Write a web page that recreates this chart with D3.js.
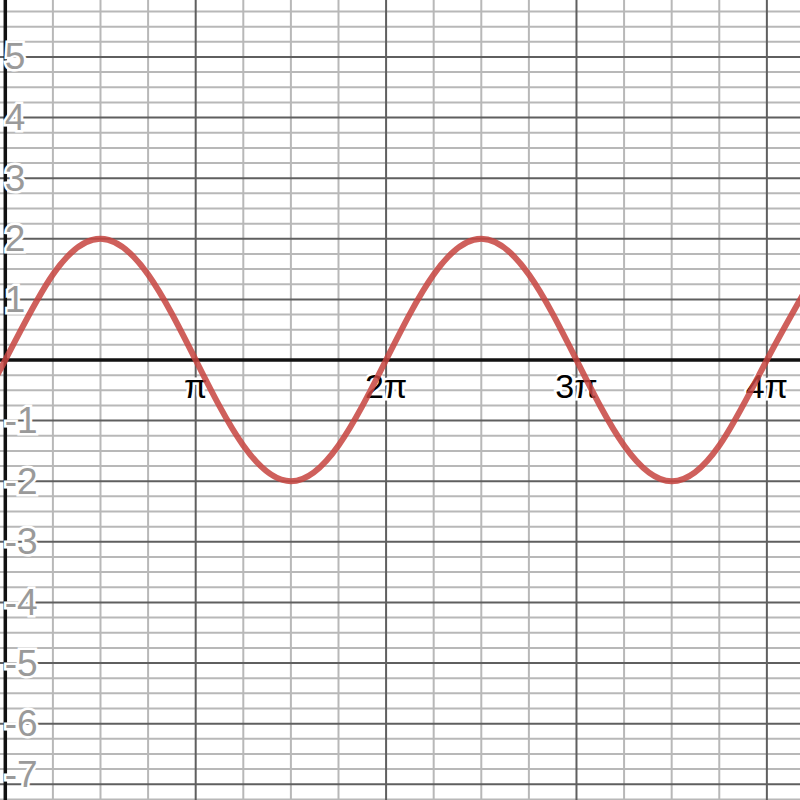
<!DOCTYPE html>
<html>
<head>
<meta charset="utf-8">
<script src="https://cdn.jsdelivr.net/npm/d3@7"></script>
<style>
  html, body { margin: 0; padding: 0; background: #fff; }
  svg { display: block; }
  text { font-family: "Liberation Sans", Arial, sans-serif; }
</style>
</head>
<body>
<div id="graph"></div>
<script>
const width = 800;
const height = 800;
const PI = Math.PI;

// visible window (graph units)
const xDomain = [-0.0875, 13.113];
const yDomain = [-7.26, 5.94];

// tick labels
const xTickMultiples = [1, 2, 3, 4];
const xTickLabels = ['π', '2π', '3π', '4π'];
const yTickValues = [5, 4, 3, 2, 1, -1, -2, -3, -4, -5, -6, -7];

// curve points, every quarter of π
const curveSteps = [-1, 0, 1, 2, 3, 4, 5, 6, 7, 8, 9, 10, 11, 12, 13, 14, 15, 16, 17];
const curveValues = [-1.41, 0, 1.41, 2, 1.41, 0, -1.41, -2, -1.41, 0, 1.41, 2, 1.41, 0, -1.41, -2, -1.41, 0, 1.41];

const x = d3.scaleLinear().domain(xDomain).range([0, width]);
const y = d3.scaleLinear().domain(yDomain).range([height, 0]);

const svg = d3.select('#graph')
  .append('svg')
  .attr('width', width)
  .attr('height', height);

svg.append('rect')
  .attr('width', width)
  .attr('height', height)
  .attr('fill', '#fff');

// grid lines: minor every π/4 and 0.25, major every π and 1
const minorX = d3.range(1, 17).filter(k => k % 4 !== 0).map(k => k * PI / 4);
const majorX = d3.range(1, 5).map(k => k * PI);
const minorY = d3.range(-29, 24).filter(k => k % 4 !== 0).map(k => k / 4);
const majorY = d3.range(-7, 6).filter(k => k !== 0);

const grid = svg.append('g');

function vLines(data, color) {
  grid.append('g').selectAll('line')
    .data(data).enter()
    .append('line')
    .attr('x1', d => x(d)).attr('x2', d => x(d))
    .attr('y1', 0).attr('y2', height)
    .attr('stroke', color)
    .attr('stroke-width', 2);
}

function hLines(data, color) {
  grid.append('g').selectAll('line')
    .data(data).enter()
    .append('line')
    .attr('x1', 0).attr('x2', width)
    .attr('y1', d => y(d)).attr('y2', d => y(d))
    .attr('stroke', color)
    .attr('stroke-width', 2);
}

vLines(minorX, '#b8b8b8');
hLines(minorY, '#b8b8b8');
vLines(majorX, '#5f5f5f');
hLines(majorY, '#5f5f5f');

// axes
svg.append('line')
  .attr('x1', 0).attr('x2', width)
  .attr('y1', y(0)).attr('y2', y(0))
  .attr('stroke', '#111')
  .attr('stroke-width', 3.5);

svg.append('line')
  .attr('x1', x(0)).attr('x2', x(0))
  .attr('y1', 0).attr('y2', height)
  .attr('stroke', '#111')
  .attr('stroke-width', 3.5);

// labels with a white halo
svg.selectAll('.x-label')
  .data(xTickMultiples).enter()
  .append('text')
  .attr('x', d => x(d * PI))
  .attr('y', y(0) + 38)
  .attr('text-anchor', 'middle')
  .attr('font-size', 34)
  .attr('fill', '#000')
  .attr('stroke', '#fff')
  .attr('stroke-width', 5)
  .attr('paint-order', 'stroke')
  .text((d, i) => xTickLabels[i]);

svg.selectAll('.y-label')
  .data(yTickValues).enter()
  .append('text')
  .attr('x', x(0) - 0.5)
  .attr('y', d => Math.min(y(d) + 12.5, height - 13))
  .attr('text-anchor', 'start')
  .attr('font-size', 37)
  .attr('fill', '#9a9a9a')
  .attr('stroke', '#fff')
  .attr('stroke-width', 5)
  .attr('paint-order', 'stroke')
  .text(d => d < 0 ? '-' + Math.abs(d) : String(d));

// curve
const points = curveSteps.map((s, i) => [s * PI / 4, curveValues[i]]);
const line = d3.line()
  .x(d => x(d[0]))
  .y(d => y(d[1]))
  .curve(d3.curveNatural);

svg.append('path')
  .datum(points)
  .attr('fill', 'none')
  .attr('stroke', '#c74440')
  .attr('stroke-opacity', 0.85)
  .attr('stroke-width', 6)
  .attr('stroke-linecap', 'round')
  .attr('d', line);
</script>
</body>
</html>
